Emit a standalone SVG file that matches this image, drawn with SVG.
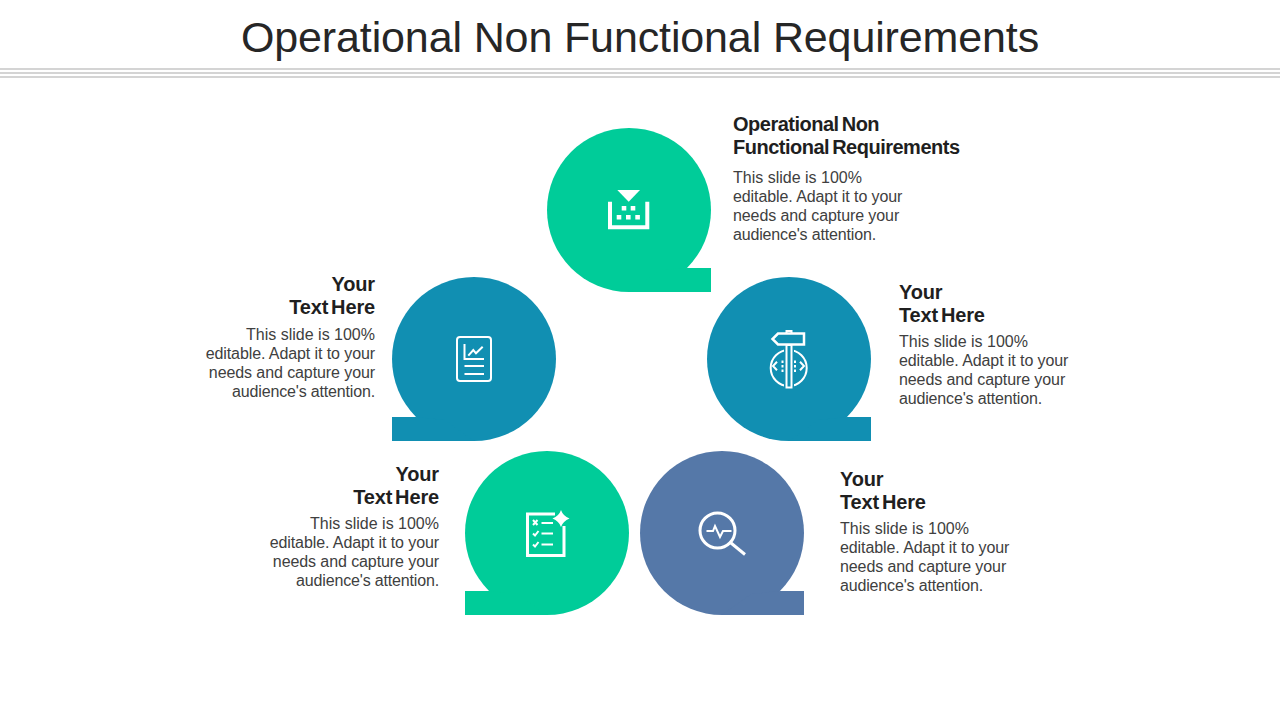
<svg xmlns="http://www.w3.org/2000/svg" width="1280" height="720" viewBox="0 0 1280 720">
<style>
text{font-family:"Liberation Sans",Arial,sans-serif}
.t{font-size:43px;fill:#262626;letter-spacing:-.13px}
.h{font-size:20px;font-weight:bold;fill:#1f1f1f;letter-spacing:-.15px;word-spacing:-2.5px}
.h2{font-size:20px;font-weight:bold;fill:#1f1f1f;letter-spacing:-.5px;word-spacing:-2px}
.b{font-size:16px;fill:#404040;letter-spacing:-.09px}
.b .a{letter-spacing:0}
.b .d{letter-spacing:-.16px}
.e{text-anchor:end}
.ln{fill:#d4d4d4}
.w{fill:#fff}
.s{fill:none;stroke:#fff;stroke-width:2}
.s3{fill:none;stroke:#fff;stroke-width:3}
.g{fill:#00cc99}.c{fill:#118fb2}.p{fill:#5578a8}
</style>
<rect width="1280" height="720" fill="#fff"/>
<g id="title">
<rect class="ln" x="0" y="68" width="1280" height="2"/><rect class="ln" x="0" y="72" width="1280" height="2"/><rect class="ln" x="0" y="76" width="1280" height="2"/>
<text class="t" x="640" y="51.500" text-anchor="middle">Operational Non Functional Requirements</text>
</g>
<g id="connectors"/>
<g id="node-top">
<circle class="g" cx="629" cy="210" r="82"/><path class="g" d="M629 292H711V268H687L660 270Z"/>
<path class="w" d="M617.300 190H640L628.700 201.700Z"/>
<path class="s3" style="stroke-width:4" d="M610 201.700V227.300H647.300V201.700"/>
<path class="w" d="M621.700 206h4.600v4.600h-4.600zM630.700 206h4.600v4.600h-4.600zM616.700 215h4.600v4.600h-4.600zM626 215h4.600v4.600h-4.600zM635.300 215h4.600v4.600h-4.600z"/>
<text class="h2"><tspan x="733" y="131">Operational Non</tspan><tspan x="733" y="154">Functional Requirements</tspan></text>
<text class="b"><tspan class="a" x="733" y="183">This slide is 100%</tspan><tspan x="733" y="202">editable. Adapt it to your</tspan><tspan x="733" y="221">needs and capture your</tspan><tspan class="d" x="733" y="240">audience's attention.</tspan></text>
</g>
<g id="node-left">
<circle class="c" cx="474" cy="359" r="82"/><path class="c" d="M474 441H392V417H416L445 420Z"/>
<rect class="s" x="457" y="337" width="34" height="44" rx="3"/>
<path class="s" d="M464.500 344V359H484M468.300 355.700L473.300 350L476 353.300L482.700 346.700M464.500 366H484M464.500 374H484"/>
<text class="h e"><tspan x="375" y="291">Your</tspan><tspan x="375" y="314">Text Here</tspan></text>
<text class="b e"><tspan class="a" x="375" y="340">This slide is 100%</tspan><tspan x="375" y="359">editable. Adapt it to your</tspan><tspan x="375" y="378">needs and capture your</tspan><tspan class="d" x="375" y="397">audience's attention.</tspan></text>
</g>
<g id="node-right">
<circle class="c" cx="789" cy="359" r="82"/><path class="c" d="M789 441H871V417H847L818 420Z"/>
<circle class="s" cx="788.700" cy="368" r="18"/>
<rect class="c" x="784" y="346" width="10" height="43"/>
<rect class="s" x="786.500" y="345" width="5" height="42.500"/>
<path class="s3" style="stroke-width:2.500" d="M778 333.500H804V344.500H778L772.500 339Z"/>
<path class="s" d="M786.500 333V331H791.500V333"/>
<path class="s" d="M777 361.700L773 366L777 370.300M800 361.700L804 366L800 370.300"/>
<path class="w" d="M781.500 360.500h2v2.500h-2zM781.500 365h2v2.500h-2zM781.500 369.500h2v2.500h-2zM794 360.500h2v2.500h-2zM794 365h2v2.500h-2zM794 369.500h2v2.500h-2z"/>
<text class="h"><tspan x="899" y="299">Your</tspan><tspan x="899" y="322">Text Here</tspan></text>
<text class="b"><tspan class="a" x="899" y="347">This slide is 100%</tspan><tspan x="899" y="366">editable. Adapt it to your</tspan><tspan x="899" y="385">needs and capture your</tspan><tspan class="d" x="899" y="404">audience's attention.</tspan></text>
</g>
<g id="node-bottom-left">
<circle class="g" cx="547" cy="533" r="82"/><path class="g" d="M547 615H465V591H489L518 594Z"/>
<path class="s3" d="M555 514H527.500V555.500H564V526"/>
<path class="w" d="M561 510Q563 516 569.500 518.500Q563 521 561 527Q559 521 552.500 518.500Q559 516 561 510Z"/>
<path class="s" d="M533 520L537.500 525M537.500 520L533 525M541.500 523H553M533 533.500L535 535.500L538.500 531M541.500 533.500H553M533 544.500L535 546.500L538.500 542M541.500 544.500H553"/>
<text class="h e"><tspan x="439" y="481">Your</tspan><tspan x="439" y="504">Text Here</tspan></text>
<text class="b e"><tspan class="a" x="439" y="529">This slide is 100%</tspan><tspan x="439" y="548">editable. Adapt it to your</tspan><tspan x="439" y="567">needs and capture your</tspan><tspan class="d" x="439" y="586">audience's attention.</tspan></text>
</g>
<g id="node-bottom-right">
<circle class="p" cx="722" cy="533" r="82"/><path class="p" d="M722 615H804V591H780L751 594Z"/>
<circle class="s3" cx="717.500" cy="530.500" r="17.500"/>
<path class="s3" d="M731 543L745 554.500"/>
<path class="s" d="M706.500 531H713L715 526L720 537L723 531H731.500"/>
<text class="h"><tspan x="840" y="486">Your</tspan><tspan x="840" y="509">Text Here</tspan></text>
<text class="b"><tspan class="a" x="840" y="534">This slide is 100%</tspan><tspan x="840" y="553">editable. Adapt it to your</tspan><tspan x="840" y="572">needs and capture your</tspan><tspan class="d" x="840" y="591">audience's attention.</tspan></text>
</g>
</svg>
